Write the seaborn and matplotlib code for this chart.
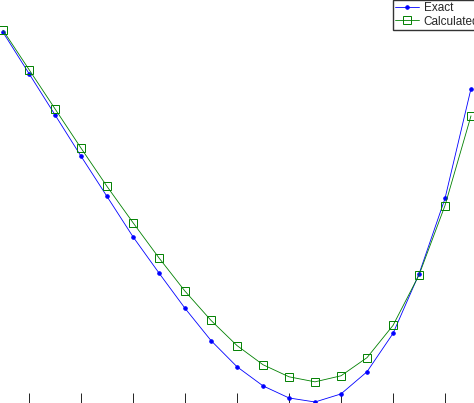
import matplotlib
matplotlib.use("Agg")
import matplotlib.pyplot as plt
import seaborn as sns
import pandas as pd

sns.set_style("white")
plt.rcParams['font.family'] = ['Liberation Sans', 'DejaVu Sans']

x = list(range(19))
exact = [368, 327, 286, 245, 205, 165, 129, 94, 62, 36, 17, 5, 1, 9, 31, 69, 128, 203, 312]
calc = [370, 331, 292, 253, 215, 179, 144, 111, 82, 57, 38, 26, 21, 27, 45, 77, 127, 196, 285]

df = pd.concat([
    pd.DataFrame({"x": x, "y": exact, "s": "Exact"}),
    pd.DataFrame({"x": x, "y": calc, "s": "Calculated"}),
])

fig = plt.figure(figsize=(4.74, 4.03), dpi=100)
ax = fig.add_axes([0, 0, 1, 1])
sns.lineplot(data=df[df.s == "Exact"], x="x", y="y", ax=ax, color="blue", lw=0.6,
             marker="o", markersize=2.5, markeredgecolor="blue", label="Exact")
sns.lineplot(data=df[df.s == "Calculated"], x="x", y="y", ax=ax, color="green", lw=0.6,
             marker="s", markersize=6, markerfacecolor="none", markeredgecolor="green",
             markeredgewidth=0.7, label="Calculated")
ax.set_xlim(-3/26, 471/26)
ax.set_ylim(0, 400)
for s in ax.spines.values():
    s.set_visible(False)
ax.set_xticks([1, 3, 5, 7, 9, 11, 13, 15, 17])
ax.set_xticklabels([])
ax.set_yticks([])
ax.tick_params(axis="x", direction="in", length=7, bottom=True, color="black", width=0.6)
ax.set_xlabel("")
ax.set_ylabel("")
ax.legend(loc="upper left", bbox_to_anchor=(393/474, 1.0), frameon=True, fancybox=False,
          edgecolor="black", fontsize=8.5, borderpad=0.2, labelspacing=0.1, handlelength=2.0,
          handletextpad=0.4, borderaxespad=0)
fig.savefig("out.png", dpi=100)
